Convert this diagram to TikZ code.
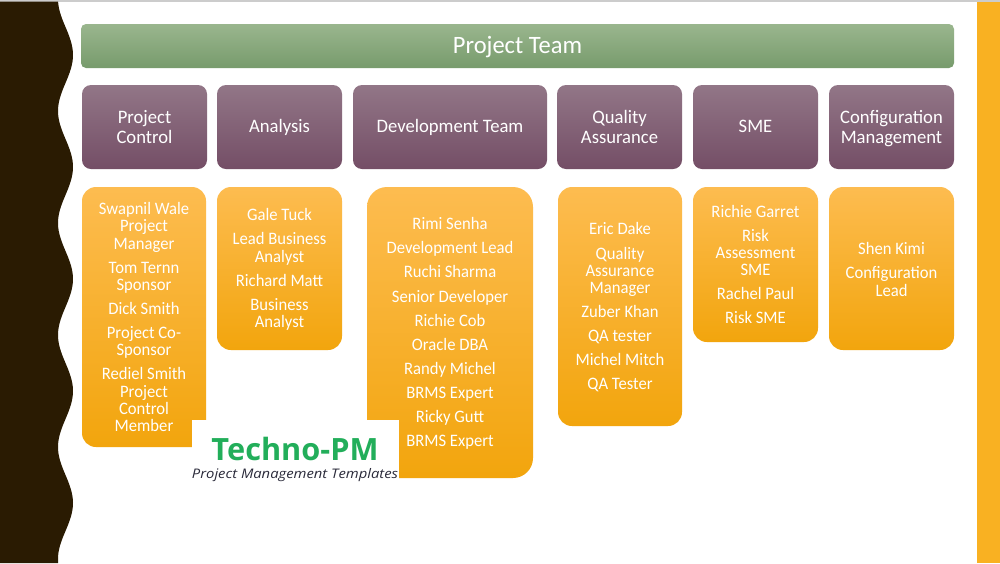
\documentclass[tikz,border=0pt]{standalone}
\usepackage{fontspec}
\setmainfont{Carlito}
\newfontfamily\memberfont[FakeStretch=0.95]{Carlito}
\newfontfamily\headfont[FakeStretch=0.98]{Carlito}
\newfontfamily\titlefont[FakeStretch=0.98]{Carlito}
\newfontfamily\logofont{Open Sans}
\newfontfamily\tagfont[FakeStretch=1.12]{Open Sans}
\definecolor{panelDark}{HTML}{2A1B02}
\definecolor{barOrange}{HTML}{F9B122}
\definecolor{edgeGrey}{HTML}{CCCCCC}
\definecolor{greenTop}{HTML}{9AB68E}
\definecolor{greenBot}{HTML}{779B6C}
\definecolor{plumTop}{HTML}{927687}
\definecolor{plumBot}{HTML}{744E66}
\definecolor{orTop}{HTML}{FDBC50}
\definecolor{orMid}{HTML}{FDB51F}
\definecolor{orBot}{HTML}{F2A50D}
\definecolor{logoGreen}{HTML}{22AE5A}
\definecolor{tagInk}{HTML}{2A2A3A}
\tikzset{
  base/.style={inner sep=0pt,outer sep=0pt,align=center,text=white,rounded corners=#1},
  titlebar/.style={base=5pt,top color=greenTop,bottom color=greenBot,font=\titlefont\fontsize{25}{28}\selectfont},
  header/.style={base=9pt,top color=plumTop,bottom color=plumBot,minimum height=84pt,font=\headfont\fontsize{19}{20}\selectfont},
  member/.style={base=#1,top color=orTop,middle color=orMid,bottom color=orBot,font=\memberfont\fontsize{17.5}{17.25}\selectfont},
}
\newcommand{\gap}{\\[6.8pt]}
\newcommand{\nodepth}[1]{\raisebox{0pt}[\height][0pt]{#1}}
\begin{document}
\begin{tikzpicture}[x=1pt,y=-1pt]
\useasboundingbox (0,0) rectangle (1000,563);
\fill[white] (0,0) rectangle (1000,563);
\fill[edgeGrey] (0,0) rectangle (1000,1.5);
\fill[panelDark] (0,1.5) -- plot[domain=1.5:563,samples=160,smooth] ({65.5+7.5*cos(3.2143*(\x-55))},\x) -- (0,563) -- cycle;
\fill[barOrange] (977,1.5) rectangle (1000,563);
\node[titlebar,minimum width=873pt,minimum height=44pt] (title) at (517.5,46) {\rule{0pt}{20pt}Project Team};
\node[header,minimum width=125pt] (h1) at (144.5,127) {Project\\Control};
\node[header,minimum width=125pt] (h2) at (279.5,127) {Analysis};
\node[header,minimum width=194pt] (h3) at (450,127) {Development Team};
\node[header,minimum width=125pt] (h4) at (619.5,127) {Quality\\Assurance};
\node[header,minimum width=125pt] (h5) at (755.5,127) {\rule[-2pt]{0pt}{2pt}SME};
\node[header,minimum width=125pt] (h6) at (891.5,127) {Configuration\\\nodepth{Management}};
\node[member=14pt,minimum width=124pt,minimum height=260pt] (m1) at (144,317) {Swapnil Wale\\Project\\Manager\gap Tom Ternn\\Sponsor\gap Dick Smith\gap Project Co-\\Sponsor\gap Rediel Smith\\Project\\Control\\Member};
\node[member=14pt,minimum width=125pt,minimum height=163pt] (m2) at (279.5,268.5) {\rule{0pt}{14pt}Gale Tuck\gap Lead Business\\Analyst\gap Richard Matt\gap Business\\Analyst};
\node[member=20pt,minimum width=166pt,minimum height=291pt] (m3) at (450,332.5) {\rule{0pt}{14pt}Rimi Senha\gap Development Lead\gap Ruchi Sharma\gap Senior Developer\gap Richie Cob\gap Oracle DBA\gap Randy Michel\gap BRMS Expert\gap Ricky Gutt\gap BRMS Expert};
\node[member=14pt,minimum width=124pt,minimum height=239pt] (m4) at (620,306.5) {\rule{0pt}{14pt}Eric Dake\gap Quality\\Assurance\\Manager\gap Zuber Khan\gap QA tester\gap Michel Mitch\gap QA Tester};
\node[member=14pt,minimum width=125pt,minimum height=155pt] (m5) at (755.5,264.5) {Richie Garret\gap Risk\\Assessment\\SME\gap Rachel Paul\gap Risk SME};
\node[member=14pt,minimum width=125pt,minimum height=163pt] (m6) at (891.5,268.5) {\rule{0pt}{14pt}Shen Kimi\gap Configuration\\Lead};
\node[fill=white,inner sep=0pt,minimum width=207pt,minimum height=60pt] (logo) at (295.5,450) {};
\node[inner sep=0pt,text=logoGreen,font=\logofont\bfseries\fontsize{30.7}{31}\selectfont] (brand) at (295,448.5) {Techno-PM};
\node[inner sep=0pt,text=tagInk,font=\tagfont\itshape\fontsize{13.2}{14}\selectfont] (tag) at (295,475) {Project Management Templates};
\end{tikzpicture}
\end{document}
